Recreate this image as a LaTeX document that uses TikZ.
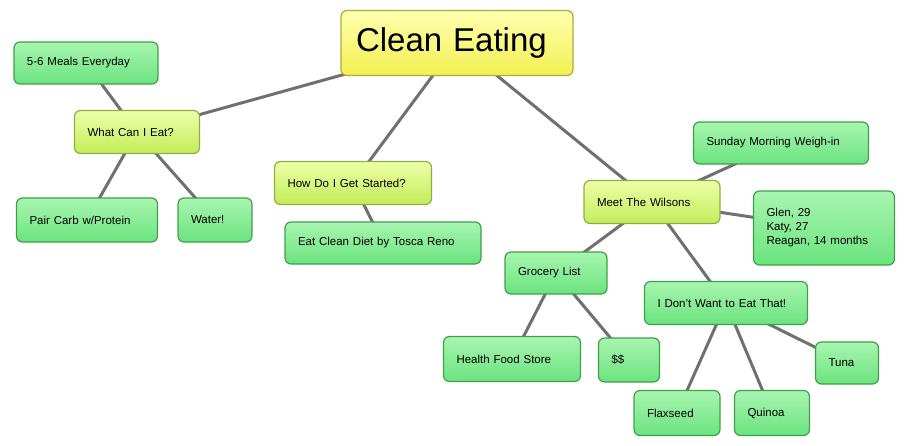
\documentclass[tikz,border=0pt]{standalone}
\usepackage{fontspec}
\setmainfont{Liberation Sans}
\usetikzlibrary{backgrounds}
\definecolor{gfill}{HTML}{6BE37F}
\definecolor{gtop}{HTML}{A8F5B0}
\definecolor{gline}{HTML}{3FA04A}
\definecolor{ytop}{HTML}{FFFFB0}
\definecolor{yfill}{HTML}{F2F050}
\definecolor{yline}{HTML}{B5A83A}
\definecolor{ltop}{HTML}{EEFFA8}
\definecolor{lfill}{HTML}{C2EC5A}
\definecolor{lline}{HTML}{8DB040}
\definecolor{conn}{HTML}{707070}
\tikzset{
 box/.style={rounded corners=6pt, line width=1.2pt, font=\fontsize{11.5}{14}\selectfont, inner xsep=13pt, inner ysep=0pt, align=left},
 gbox/.style={box, draw=gline, top color=gtop, bottom color=gfill},
 lbox/.style={box, draw=lline, top color=ltop, bottom color=lfill},
 ybox/.style={box, draw=yline, top color=ytop, bottom color=yfill},
 link/.style={draw=conn, line width=3pt},
 wd/.style={text width=#1pt-26pt},
}
\begin{document}
\begin{tikzpicture}[x=1pt,y=-1pt]
\useasboundingbox (0,0) rectangle (907,445);
\node[ybox, wd=228, minimum height=65pt, font=\fontsize{33}{36}\selectfont, inner xsep=15pt] (ce) at (457,43) {Clean Eating};
\node[gbox, wd=144, minimum height=42pt] (m56) at (86,63) {5-6 Meals Everyday};
\node[lbox, wd=125, minimum height=43pt] (wci) at (137,132) {What Can I Eat?};
\node[gbox, wd=141, minimum height=44pt] (pc) at (87,220) {Pair Carb w/Protein};
\node[gbox, wd=74, minimum height=44pt] (wa) at (215,220) {Water!};
\node[lbox, wd=157, minimum height=43pt] (hd) at (353,183) {How Do I Get Started?};
\node[gbox, wd=196, minimum height=42pt] (ec) at (383,243) {Eat Clean Diet by Tosca Reno};
\node[lbox, wd=136, minimum height=43pt] (mw) at (652,202) {Meet The Wilsons};
\node[gbox, wd=175, minimum height=42pt] (sm) at (781,143) {Sunday Morning Weigh-in};
\node[gbox, wd=141, minimum height=74pt] (gl) at (824,228) {Glen, 29\\Katy, 27\\Reagan, 14 months};
\node[gbox, wd=102, minimum height=42pt] (gr) at (556,273) {Grocery List};
\node[gbox, wd=163, minimum height=43pt] (id) at (726,303) {I Don't Want to Eat That!};
\node[gbox, wd=137, minimum height=45pt] (hf) at (512,359) {Health Food Store};
\node[gbox, wd=61, minimum height=44pt] (dd) at (629,360) {\$\$};
\node[gbox, wd=63, minimum height=42pt] (tu) at (847,363) {Tuna};
\node[gbox, wd=86, minimum height=45pt] (fl) at (677,413) {Flaxseed};
\node[gbox, wd=75, minimum height=45pt] (qu) at (772,413) {Quinoa};
\begin{scope}[on background layer]
\foreach \a/\b in {ce/wci, ce/hd, ce/mw, wci/m56, wci/pc, wci/wa, hd/ec, mw/sm, mw/gl, mw/gr, mw/id, gr/hf, gr/dd, id/tu, id/fl, id/qu}
  \draw[link] (\a.center) -- (\b.center);
\end{scope}
\end{tikzpicture}
\end{document}
